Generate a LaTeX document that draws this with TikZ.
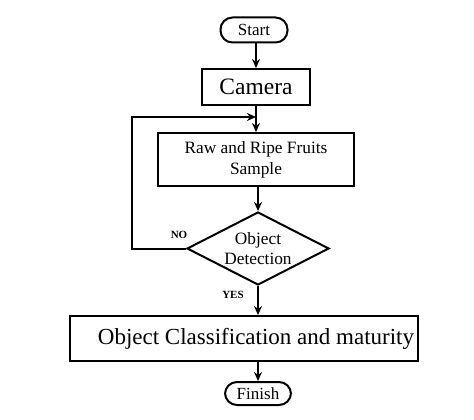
\documentclass[tikz,border=0pt]{standalone}
\usepackage{fontspec}
\setmainfont{Liberation Serif}
\usetikzlibrary{shapes.geometric,arrows.meta}
\begin{document}
\begin{tikzpicture}[x=1pt,y=-1pt,
  line width=2pt,
  arr/.style={-{Stealth[length=9pt,width=8pt]}},
  term/.style={draw,rounded corners=12pt,minimum width=67pt,minimum height=25pt,inner sep=0pt},
  proc/.style={draw,inner sep=0pt},
  dec/.style={draw,diamond,aspect=1.95,inner sep=0pt,minimum width=142pt,minimum height=73pt,align=center},
  lab/.style={font=\fontsize{11}{12}\selectfont\bfseries}]
\useasboundingbox (0,0) rectangle (474,420);
\node[term,font=\fontsize{17}{19}\selectfont] (start) at (254,30) {Start};
\node[proc,minimum width=108pt,minimum height=36pt,font=\fontsize{23.5}{26}\selectfont] (cam) at (256,87) {Camera};
\node[proc,minimum width=196pt,minimum height=53pt,align=center,font=\fontsize{17.3}{21}\selectfont] (raw) at (256,159.5) {Raw and Ripe Fruits\\Sample};
\node[dec,font=\fontsize{17.3}{20}\selectfont] (det) at (258,248.5) {Object\\Detection};
\node[proc,minimum width=348pt,minimum height=45pt,font=\fontsize{23}{25}\selectfont] (cls) at (244,338.5) {\hspace*{24pt}Object Classification and maturity};
\node[term,minimum width=66pt,minimum height=23pt,font=\fontsize{17}{19}\selectfont] (fin) at (258,393.5) {Finish};
\coordinate (loopL) at (132,248.5);
\coordinate (loopT) at (132,117);
\coordinate (join) at (256,117);
\draw[arr] (start.south -| cam) -- (cam);
\draw[arr] (cam) -- (raw);
\draw[arr] (raw.south -| det) -- (det);
\draw[arr] (det.south) -- (det.south |- cls.north);
\draw[arr] (cls.south -| fin) -- (fin);
\draw[arr] (det.west) -- (loopL) -- (loopT) -- (join);
\node[lab] (no) at (179,235) {NO};
\node[lab] (yes) at (233,295) {YES};
\end{tikzpicture}
\end{document}
